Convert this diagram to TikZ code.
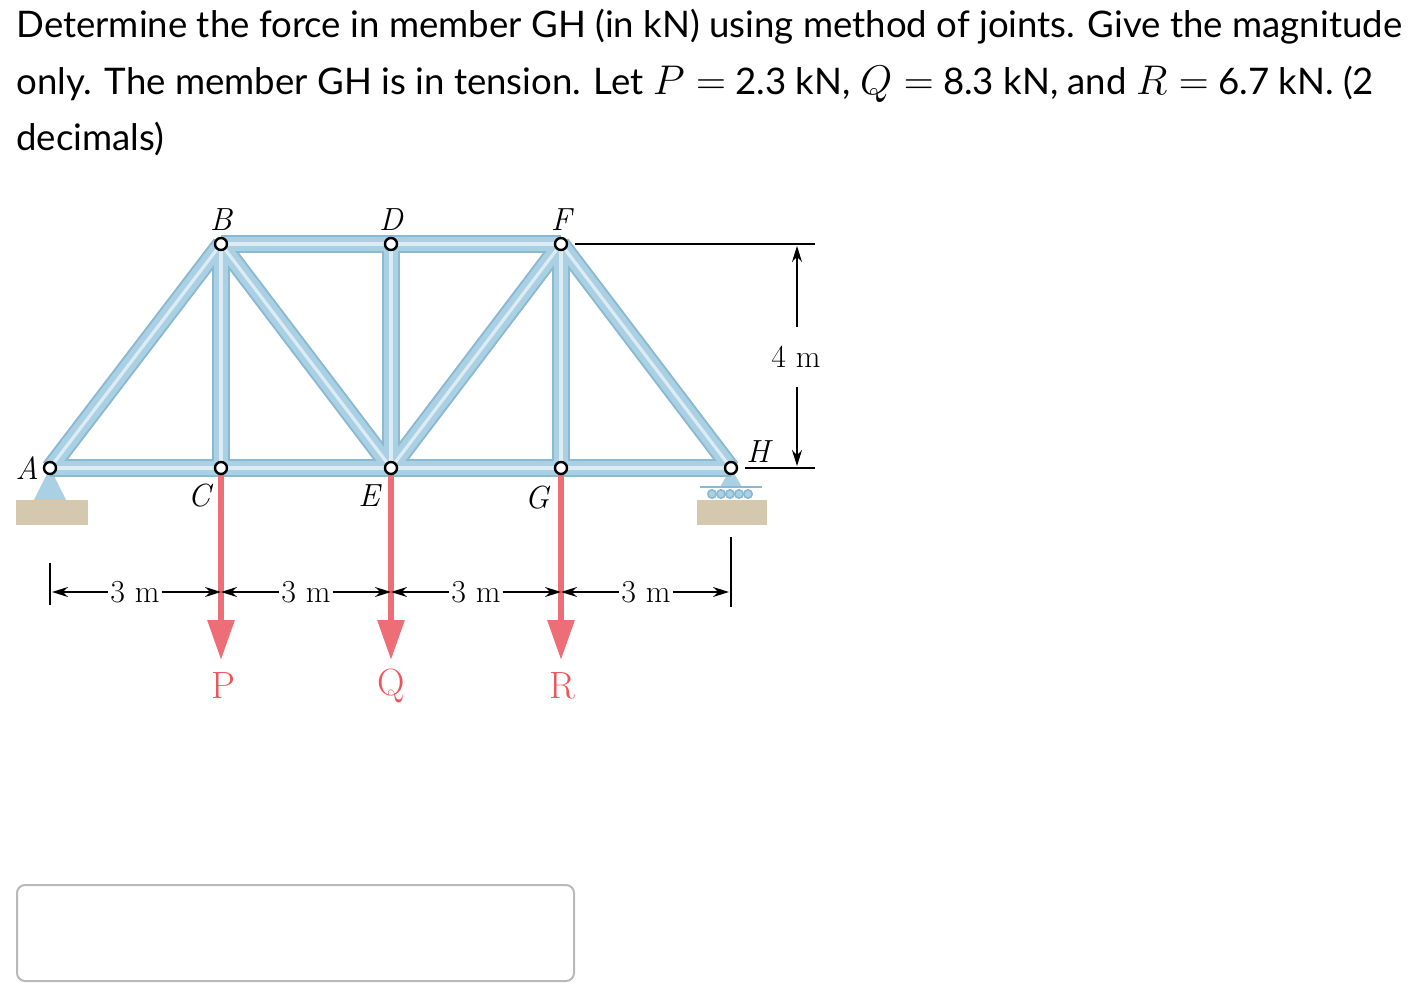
\documentclass[tikz,border=0pt]{standalone}
\usepackage{fontspec}
\setmainfont{Lato}
\newfontfamily\serf{Latin Modern Roman}
\usetikzlibrary{arrows.meta}
\definecolor{mem}{RGB}{170,208,228}
\definecolor{memd}{RGB}{140,185,210}
\definecolor{frc}{RGB}{238,110,120}
\definecolor{grd}{RGB}{212,200,175}
\tikzset{
 memb/.style={line width=9pt,draw=memd},
 membi/.style={line width=7pt,draw=mem},
 membc/.style={line width=1.6pt,draw=white!60!mem},
 jnt/.style={circle,draw=black,fill=white,line width=1.2pt,inner sep=0pt,minimum size=6pt},
 jl/.style={font=\serf\itshape\fontsize{16}{16}\selectfont},
 dl/.style={font=\serf\fontsize{16}{16}\selectfont},
 fl/.style={font=\serf\fontsize{19}{19}\selectfont,text=frc!75!red},
 force/.style={line width=3pt,draw=frc,-{Triangle[width=13pt,length=20pt]},shorten >=0pt},
 dim/.style={line width=0.8pt,draw=black},
 dar/.style={dim,-{Stealth[length=8pt,width=5pt]}},
 qtext/.style={anchor=base west,font=\fontsize{18.3}{18.3}\selectfont},
 qm/.style={}
}
\begin{document}
\begin{tikzpicture}[x=0.5pt,y=-0.5pt]
\useasboundingbox (0,0) rectangle (1428,1004);
\node[qtext,inner sep=0pt] (t1) at (16,38) {Determine the force in member GH (in kN) using method of joints. Give the magnitude};
\node[qtext,inner sep=0pt] (t2) at (16,95) {only. The member GH is in tension. Let {\serf\fontsize{21}{21}\selectfont$P=$}~2.3 kN, {\serf\fontsize{21}{21}\selectfont$Q=$}~8.3 kN, and {\serf\fontsize{21}{21}\selectfont$R=$}~6.7 kN. (2};
\node[qtext,inner sep=0pt] (t3) at (16,151) {decimals)};
\coordinate (A) at (50,468); \coordinate (C) at (221,468); \coordinate (E) at (391,468);
\coordinate (G) at (561,468); \coordinate (H) at (731,468);
\coordinate (B) at (221,244); \coordinate (D) at (391,244); \coordinate (F) at (561,244);
% supports
\fill[grd] (16,500) rectangle (88,525);
\fill[mem] (50,468) -- (34,500) -- (66,500) -- cycle;
\fill[grd] (697,500) rectangle (767,525);
\fill[mem] (731,468) -- (720,487) -- (742,487) -- cycle;
\draw[memd,line width=1pt] (700,487) -- (762,487);
\foreach \x in {712,721,730,739,748} \draw[memd,fill=mem,line width=0.8pt] (\x,494) circle (4.2);
% members
\foreach \p/\q in {A/H,B/F,A/B,B/C,B/E,D/E,E/F,F/G,F/H}{ \draw[memb] (\p) -- (\q); }
\foreach \p/\q in {A/H,B/F,A/B,B/C,B/E,D/E,E/F,F/G,F/H}{ \draw[membi] (\p) -- (\q); }
\foreach \p/\q in {A/H,B/F,A/B,B/C,B/E,D/E,E/F,F/G,F/H}{ \draw[membc] (\p) -- (\q); }
% forces
\coordinate (Pt) at (221,660); \coordinate (Qt) at (391,660); \coordinate (Rt) at (561,660);
\draw[force] (C) -- (Pt); \draw[force] (E) -- (Qt); \draw[force] (G) -- (Rt);
\node[fl] (lP) at (223,686) {P}; \node[fl] (lQ) at (391,686) {Q}; \node[fl] (lR) at (562,686) {R};
\foreach \n in {A,B,C,D,E,F,G,H} \node[jnt] (j\n) at (\n) {};
\node[jl,anchor=east] (lA) at (46,468) {A};
\node[jl] (lB) at (221,220) {B};
\node[jl] (lD) at (391,220) {D};
\node[jl] (lF) at (561,220) {F};
\node[jl] (lC) at (199,496) {C};
\node[jl] (lE) at (369,496) {E};
\node[jl] (lG) at (537,498) {G};
\node[jl] (lH) at (758,452) {H};
% vertical dimension
\coordinate (d1) at (815,244); \coordinate (d2) at (815,468);
\coordinate (f1) at (575,244); \coordinate (h1) at (745,468);
\draw[dim] (f1) -- (d1); \draw[dim] (h1) -- (d2);
\node[dl] (l4) at (796,357) {4 m};
\coordinate (v1) at (797,246); \coordinate (v2) at (797,466);
\draw[dar] (l4.north -| v1) ++(0,-12) -- (v1);
\draw[dar] (l4.south -| v2) ++(0,12) -- (v2);
% horizontal dims
\coordinate (k1) at (50,563); \coordinate (k1b) at (50,605);
\coordinate (k2) at (731,537); \coordinate (k2b) at (731,607);
\draw[dim] (k1) -- (k1b); \draw[dim] (k2) -- (k2b);
\foreach \cx/\lx/\rx/\nm in {135/52/221/a,306/221/391/b,476/391/561/c,646/561/729/d}{
 \node[dl,inner sep=1pt] (m\nm) at (\cx,592) {3 m};
 \coordinate (ml\nm) at (\lx,592); \coordinate (mr\nm) at (\rx,592);
 \draw[dar] (m\nm.west) -- (ml\nm);
 \draw[dar] (m\nm.east) -- (mr\nm);
}
\draw[gray!55,line width=1pt,rounded corners=4pt] (17,885) rectangle (574,981);
\end{tikzpicture}
\end{document}
